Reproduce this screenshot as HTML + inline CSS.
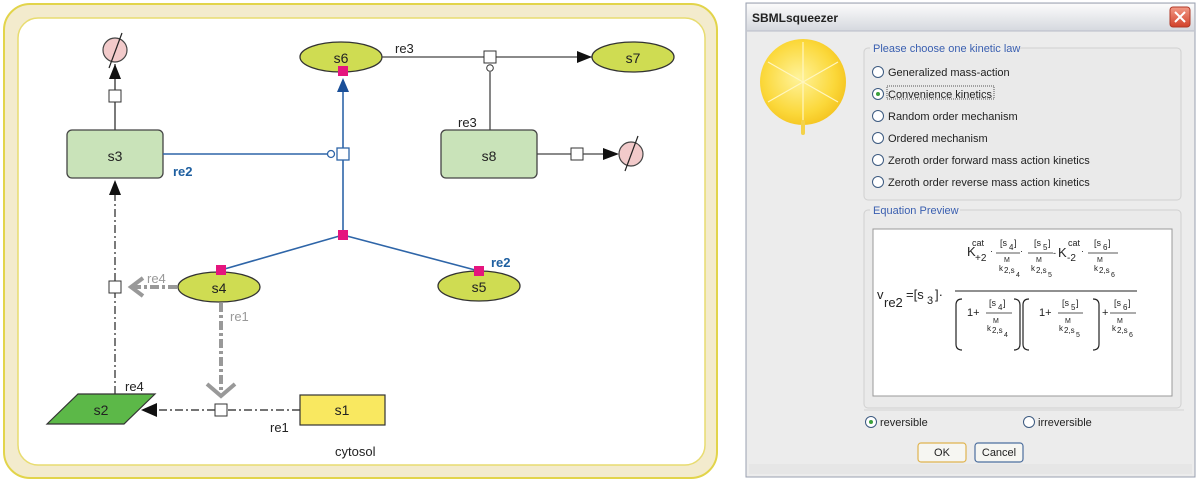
<!DOCTYPE html>
<html><head><meta charset="utf-8"><style>
html,body{margin:0;padding:0;background:#fff;width:1200px;height:483px;overflow:hidden}
svg{display:block}
</style></head><body>
<svg width="1200" height="483" viewBox="0 0 1200 483" xmlns="http://www.w3.org/2000/svg" font-family="Liberation Sans, sans-serif">
<!-- compartment -->
<rect x="4" y="4" width="713" height="474" rx="26" fill="#f3ebcd" stroke="#e2d44a" stroke-width="2"/>
<rect x="18" y="18" width="687" height="447" rx="20" fill="#fff" stroke="#e8dc70" stroke-width="1.5"/>
<!-- top-left degradation -->
<line x1="115" y1="130" x2="115" y2="102" stroke="#333" stroke-width="1.3"/>
<line x1="115" y1="90" x2="115" y2="64" stroke="#333" stroke-width="1.3"/>
<path d="M109,79L115,64L121,79z" fill="#111"/>
<rect x="109" y="90" width="12" height="12" fill="#fff" stroke="#333"/>
<circle cx="115" cy="50" r="12" fill="#f2caca" stroke="#444" stroke-width="1.2"/>
<line x1="109" y1="68" x2="122" y2="33" stroke="#222" stroke-width="1.2"/>
<!-- s3 -->
<rect x="67" y="130" width="96" height="48" rx="5" fill="#c9e3b9" stroke="#444" stroke-width="1.3"/>
<text x="115" y="161" font-size="14" text-anchor="middle" fill="#222">s3</text>
<text x="173" y="176" font-size="13" font-weight="bold" fill="#1e5fa0">re2</text>
<!-- re2 blue -->
<line x1="163" y1="154" x2="327" y2="154" stroke="#2e65a8" stroke-width="1.6"/>
<circle cx="331" cy="154" r="3.5" fill="#fff" stroke="#2e65a8" stroke-width="1.3"/>
<rect x="337" y="148" width="12" height="12" fill="#fff" stroke="#2e65a8" stroke-width="1.3"/>
<line x1="343" y1="148" x2="343" y2="86" stroke="#2e65a8" stroke-width="1.6"/>
<path d="M337,92L343,78L349,92z" fill="#1a4f98"/>
<line x1="343" y1="160" x2="343" y2="235" stroke="#2e65a8" stroke-width="1.6"/>
<line x1="343" y1="235" x2="221" y2="270" stroke="#2e65a8" stroke-width="1.6"/>
<line x1="343" y1="235" x2="479" y2="271" stroke="#2e65a8" stroke-width="1.6"/>
<!-- s6 -->
<ellipse cx="341" cy="57" rx="41" ry="15" fill="#cfdc52" stroke="#333" stroke-width="1.3"/>
<text x="341" y="63" font-size="14" text-anchor="middle" fill="#222">s6</text>
<rect x="338" y="66" width="10" height="10" fill="#e5157e"/>
<rect x="338" y="230" width="10" height="10" fill="#e5157e"/>
<!-- s4 -->
<ellipse cx="219" cy="287" rx="41" ry="15" fill="#cfdc52" stroke="#333" stroke-width="1.3"/>
<text x="219" y="293" font-size="14" text-anchor="middle" fill="#222">s4</text>
<rect x="216" y="265" width="10" height="10" fill="#e5157e"/>
<!-- s5 -->
<ellipse cx="479" cy="286" rx="41" ry="15" fill="#cfdc52" stroke="#333" stroke-width="1.3"/>
<text x="479" y="292" font-size="14" text-anchor="middle" fill="#222">s5</text>
<rect x="474" y="266" width="10" height="10" fill="#e5157e"/>
<text x="491" y="267" font-size="13" font-weight="bold" fill="#1e5fa0">re2</text>
<!-- re3 -->
<line x1="382" y1="57" x2="484" y2="57" stroke="#444" stroke-width="1.3"/>
<line x1="496" y1="57" x2="594" y2="57" stroke="#444" stroke-width="1.3"/>
<path d="M577,51L592,57L577,63z" fill="#111"/>
<rect x="484" y="51" width="12" height="12" fill="#fff" stroke="#333"/>
<circle cx="490" cy="68" r="3.3" fill="#fff" stroke="#333"/>
<line x1="490" y1="72" x2="490" y2="130" stroke="#444" stroke-width="1.3"/>
<text x="395" y="53" font-size="13" fill="#222">re3</text>
<text x="458" y="127" font-size="13" fill="#222">re3</text>
<ellipse cx="633" cy="57" rx="41" ry="15" fill="#cfdc52" stroke="#333" stroke-width="1.3"/>
<text x="633" y="63" font-size="14" text-anchor="middle" fill="#222">s7</text>
<!-- s8 -->
<rect x="441" y="130" width="96" height="48" rx="5" fill="#c9e3b9" stroke="#444" stroke-width="1.3"/>
<text x="489" y="161" font-size="14" text-anchor="middle" fill="#222">s8</text>
<line x1="537" y1="154" x2="571" y2="154" stroke="#444" stroke-width="1.3"/>
<rect x="571" y="148" width="12" height="12" fill="#fff" stroke="#333"/>
<line x1="583" y1="154" x2="612" y2="154" stroke="#444" stroke-width="1.3"/>
<path d="M603,148L619,154L603,160z" fill="#111"/>
<circle cx="631" cy="154" r="12" fill="#f2caca" stroke="#444" stroke-width="1.2"/>
<line x1="625" y1="171" x2="638" y2="136" stroke="#222" stroke-width="1.2"/>
<!-- re4 vertical -->
<line x1="115" y1="394" x2="115" y2="293" stroke="#222" stroke-width="1.2" stroke-dasharray="8,3,2,3"/>
<line x1="115" y1="281" x2="115" y2="194" stroke="#222" stroke-width="1.2" stroke-dasharray="8,3,2,3"/>
<path d="M109,195L115,180L121,195z" fill="#111"/>
<rect x="109" y="281" width="12" height="12" fill="#fff" stroke="#333"/>
<!-- gray modifiers -->
<line x1="177" y1="287" x2="133" y2="287" stroke="#999" stroke-width="4" stroke-dasharray="9,3,3,3"/>
<polyline points="143,278 131,287 143,296" fill="none" stroke="#999" stroke-width="4"/>
<text x="147" y="283" font-size="13" fill="#999">re4</text>
<line x1="221" y1="303" x2="221" y2="393" stroke="#999" stroke-width="4" stroke-dasharray="9,3,3,3"/>
<polyline points="207,384 221,396 235,384" fill="none" stroke="#999" stroke-width="4"/>
<text x="230" y="321" font-size="13" fill="#999">re1</text>
<!-- s2 -->
<polygon points="47,424 78,394 155,394 124,424" fill="#5cb848" stroke="#333" stroke-width="1.2"/>
<text x="101" y="415" font-size="14" text-anchor="middle" fill="#222">s2</text>
<text x="125" y="391" font-size="13" fill="#222">re4</text>
<!-- re1 horizontal -->
<line x1="300" y1="410" x2="227" y2="410" stroke="#222" stroke-width="1.2" stroke-dasharray="8,3,2,3"/>
<line x1="215" y1="410" x2="150" y2="410" stroke="#222" stroke-width="1.2" stroke-dasharray="8,3,2,3"/>
<path d="M157,403L141,410L157,417z" fill="#111"/>
<rect x="215" y="404" width="12" height="12" fill="#fff" stroke="#333"/>
<rect x="300" y="395" width="85" height="30" fill="#f9e860" stroke="#333" stroke-width="1.2"/>
<text x="342" y="415" font-size="14" text-anchor="middle" fill="#222">s1</text>
<text x="270" y="432" font-size="13" fill="#222">re1</text>
<text x="335" y="456" font-size="13" fill="#222">cytosol</text>

<!-- dialog -->
<defs>
<linearGradient id="tb" x1="0" y1="0" x2="0" y2="1"><stop offset="0" stop-color="#fbfbfb"/><stop offset="1" stop-color="#d5d8de"/></linearGradient>
<linearGradient id="cl" x1="0" y1="0" x2="0" y2="1"><stop offset="0" stop-color="#f29a86"/><stop offset="1" stop-color="#d2412a"/></linearGradient>
<radialGradient id="lm" cx="0.45" cy="0.45" r="0.6"><stop offset="0" stop-color="#fff39a"/><stop offset="0.7" stop-color="#fbd83a"/><stop offset="1" stop-color="#f4c21d"/></radialGradient>
</defs>
<rect x="746" y="3" width="449" height="474" fill="#ececec" stroke="#9aa0b0"/>
<rect x="747" y="4" width="447" height="27" fill="url(#tb)"/>
<line x1="747" y1="31" x2="1194" y2="31" stroke="#b8bcc8"/>
<text x="752" y="22" font-size="12" font-weight="bold" fill="#222">SBMLsqueezer</text>
<rect x="1170" y="7" width="20" height="20" rx="3" fill="url(#cl)" stroke="#b03a28"/>
<path d="M1175,12L1185,22M1185,12L1175,22" stroke="#fff" stroke-width="2"/>
<rect x="749" y="464" width="443" height="10" fill="#e6e6e6"/>
<!-- lemon -->
<circle cx="803" cy="82" r="43" fill="url(#lm)"/>
<path d="M803,82L803,42M803,82L838,62M803,82L838,102M803,82L768,62M803,82L768,102M803,82L803,122" stroke="#fff6c0" stroke-width="1.2"/>
<rect x="801" y="120" width="4" height="15" rx="2" fill="#f4d24a"/>
<!-- group 1 -->
<rect x="864" y="48" width="317" height="152" rx="4" fill="#eaeaea" stroke="#d0d0d0"/>
<rect x="870" y="42" width="150" height="12" fill="#ececec"/>
<text x="873" y="52" font-size="11" fill="#3a5fb0">Please choose one kinetic law</text>
<g font-size="11" fill="#222">
<circle cx="878" cy="72" r="5.5" fill="#fff" stroke="#3c5a80"/><text x="888" y="76">Generalized mass-action</text>
<circle cx="878" cy="94" r="5.5" fill="#fff" stroke="#3c5a80"/><circle cx="878" cy="94" r="2" fill="#3ca03c"/><text x="888" y="98">Convenience kinetics</text>
<rect x="887" y="86" width="107" height="13" fill="none" stroke="#555" stroke-dasharray="1,1"/>
<circle cx="878" cy="116" r="5.5" fill="#fff" stroke="#3c5a80"/><text x="888" y="120">Random order mechanism</text>
<circle cx="878" cy="138" r="5.5" fill="#fff" stroke="#3c5a80"/><text x="888" y="142">Ordered mechanism</text>
<circle cx="878" cy="160" r="5.5" fill="#fff" stroke="#3c5a80"/><text x="888" y="164">Zeroth order forward mass action kinetics</text>
<circle cx="878" cy="182" r="5.5" fill="#fff" stroke="#3c5a80"/><text x="888" y="186">Zeroth order reverse mass action kinetics</text>
</g>
<!-- group 2 -->
<rect x="864" y="210" width="317" height="198" rx="4" fill="#eaeaea" stroke="#d0d0d0"/>
<rect x="870" y="204" width="90" height="12" fill="#ececec"/>
<text x="873" y="214" font-size="11" fill="#3a5fb0">Equation Preview</text>
<rect x="873" y="229" width="299" height="167" fill="#fff" stroke="#999"/>
<!-- equation -->
<g fill="#222" font-size="9">
<text x="877" y="299" font-size="13">v</text>
<text x="884" y="307" font-size="13">re2</text>
<text x="906" y="299" font-size="13">=[s</text>
<text x="927" y="304" font-size="11">3</text>
<text x="935" y="299" font-size="13">]·</text>
<line x1="955" y1="291" x2="1137" y2="291" stroke="#222"/>
<text x="967" y="256" font-size="13">K</text>
<text x="972" y="246">cat</text>
<text x="975" y="261" font-size="10">+2</text>
<text x="990" y="254">·</text>
<text x="1000" y="246">[s</text><text x="1009" y="250" font-size="8">4</text><text x="1014" y="246">]</text>
<line x1="996" y1="253" x2="1020" y2="253" stroke="#222" stroke-width="0.8"/>
<text x="1004" y="262" font-size="7">M</text>
<text x="999" y="271" font-size="8">k</text><text x="1004" y="273" font-size="8">2,s</text><text x="1016" y="277" font-size="7">4</text>
<text x="1020" y="254">·</text>
<text x="1034" y="246">[s</text><text x="1043" y="250" font-size="8">5</text><text x="1048" y="246">]</text>
<line x1="1028" y1="253" x2="1053" y2="253" stroke="#222" stroke-width="0.8"/>
<text x="1036" y="262" font-size="7">M</text>
<text x="1031" y="271" font-size="8">k</text><text x="1036" y="273" font-size="8">2,s</text><text x="1048" y="277" font-size="7">5</text>
<text x="1053" y="256">-</text>
<text x="1058" y="257" font-size="13">K</text>
<text x="1067" y="261" font-size="10">-2</text>
<text x="1068" y="246">cat</text>
<text x="1081" y="254">·</text>
<text x="1094" y="246">[s</text><text x="1103" y="250" font-size="8">6</text><text x="1108" y="246">]</text>
<line x1="1088" y1="253" x2="1118" y2="253" stroke="#222" stroke-width="0.8"/>
<text x="1097" y="262" font-size="7">M</text>
<text x="1094" y="271" font-size="8">k</text><text x="1099" y="273" font-size="8">2,s</text><text x="1111" y="277" font-size="7">6</text>
<path d="M962,299Q956,299 956,305L956,344Q956,350 962,350" fill="none" stroke="#222" stroke-width="1.2"/>
<text x="967" y="316" font-size="11">1+</text>
<text x="989" y="306">[s</text><text x="998" y="310" font-size="8">4</text><text x="1003" y="306">]</text>
<line x1="986" y1="313" x2="1012" y2="313" stroke="#222" stroke-width="0.8"/>
<text x="993" y="323" font-size="7">M</text>
<text x="987" y="331" font-size="8">k</text><text x="992" y="333" font-size="8">2,s</text><text x="1004" y="337" font-size="7">4</text>
<path d="M1014,299Q1020,299 1020,305L1020,344Q1020,350 1014,350" fill="none" stroke="#222" stroke-width="1.2"/>
<path d="M1029,299Q1023,299 1023,305L1023,344Q1023,350 1029,350" fill="none" stroke="#222" stroke-width="1.2"/>
<text x="1039" y="316" font-size="11">1+</text>
<text x="1062" y="306">[s</text><text x="1071" y="310" font-size="8">5</text><text x="1076" y="306">]</text>
<line x1="1058" y1="313" x2="1083" y2="313" stroke="#222" stroke-width="0.8"/>
<text x="1065" y="323" font-size="7">M</text>
<text x="1059" y="331" font-size="8">k</text><text x="1064" y="333" font-size="8">2,s</text><text x="1076" y="337" font-size="7">5</text>
<path d="M1093,299Q1099,299 1099,305L1099,344Q1099,350 1093,350" fill="none" stroke="#222" stroke-width="1.2"/>
<text x="1102" y="316" font-size="11">+</text>
<text x="1114" y="306">[s</text><text x="1123" y="310" font-size="8">6</text><text x="1128" y="306">]</text>
<line x1="1110" y1="313" x2="1136" y2="313" stroke="#222" stroke-width="0.8"/>
<text x="1117" y="323" font-size="7">M</text>
<text x="1112" y="331" font-size="8">k</text><text x="1117" y="333" font-size="8">2,s</text><text x="1129" y="337" font-size="7">6</text>
</g>
<line x1="864" y1="410" x2="1184" y2="410" stroke="#d4d4d4"/>
<g font-size="11" fill="#222">
<circle cx="871" cy="422" r="5.5" fill="#fff" stroke="#3c5a80"/><circle cx="871" cy="422" r="2" fill="#3ca03c"/><text x="880" y="426">reversible</text>
<circle cx="1029" cy="422" r="5.5" fill="#fff" stroke="#3c5a80"/><text x="1038" y="426">irreversible</text>
</g>
<rect x="918" y="443" width="48" height="19" rx="3" fill="#f6f6f2" stroke="#e0b450" stroke-width="1.2"/>
<text x="942" y="456" font-size="11" text-anchor="middle" fill="#222">OK</text>
<rect x="975" y="443" width="48" height="19" rx="3" fill="#f6f6f2" stroke="#4d6f9e" stroke-width="1.2"/>
<text x="999" y="456" font-size="11" text-anchor="middle" fill="#222">Cancel</text>
</svg>
</body></html>
